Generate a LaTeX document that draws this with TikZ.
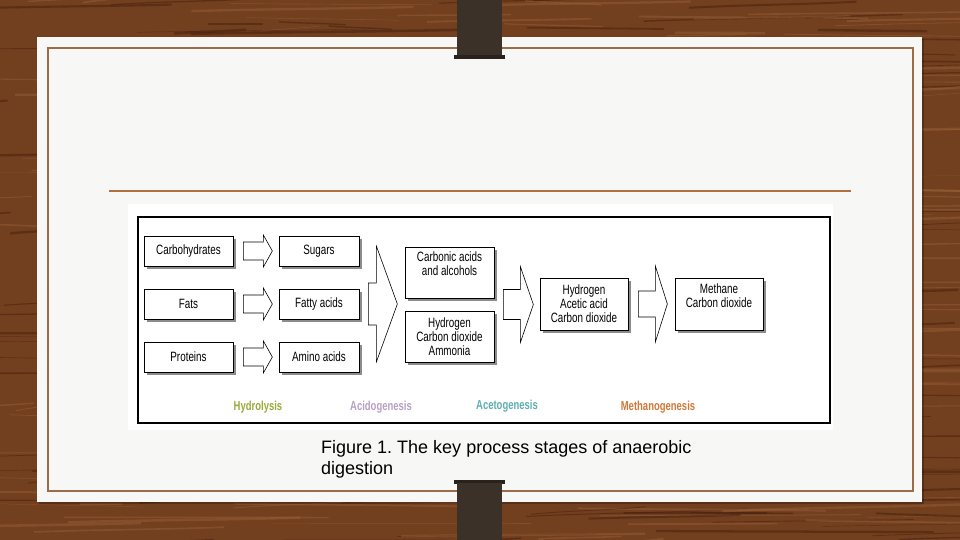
\documentclass[tikz,border=0pt]{standalone}
\usepackage{fontspec}
\setmainfont{Liberation Sans}
\newfontfamily\narrowfont[FakeStretch=0.73]{Liberation Sans}
\usetikzlibrary{calc,shadows}
\definecolor{woodbase}{HTML}{723F1F}
\definecolor{wooddark}{HTML}{45200E}
\definecolor{woodlight}{HTML}{9A6238}
\definecolor{paper}{HTML}{F7F7F5}
\definecolor{frameline}{HTML}{9C6B4A}
\definecolor{titleline}{HTML}{B0703F}
\definecolor{clipbody}{HTML}{3B3129}
\definecolor{clipfoot}{HTML}{29211B}
\definecolor{hydcol}{HTML}{9AAA3A}
\definecolor{acicol}{HTML}{B8A0C4}
\definecolor{acecol}{HTML}{5EAFB0}
\definecolor{metcol}{HTML}{D07838}
\tikzset{
  box/.style={draw=black, line width=0.7pt, fill=white, inner sep=0pt, align=center,
    font=\narrowfont\fontsize{13.5}{14}\selectfont,
    general shadow={fill=black!45, shadow xshift=2.5pt, shadow yshift=-2.5pt}},
  boxtext/.style={inner sep=0pt, align=center, font=\narrowfont\fontsize{13.5}{14}\selectfont},
  stagelab/.style={inner sep=0pt, font=\narrowfont\bfseries\fontsize{13}{14}\selectfont},
  barrow/.style={draw=black, line width=0.6pt, fill=white, line join=miter},
}
\newcommand\blockarr[5]{%
  \draw[barrow] ($#1+(0,-#4)$) -- ++(#2,0) -- ++(0,{#4-#5}) -- ++(#3,#5) -- ++(-#3,#5)
    -- ++(0,{#4-#5}) -- ++(-#2,0) -- cycle;}
\begin{document}
\begin{tikzpicture}[x=1pt,y=-1pt]
\useasboundingbox (0,0) rectangle (960,540);
% wood background
\fill[woodbase] (0,0) rectangle (960,540);
\pgfmathsetseed{11}
\foreach \i in {1,...,420} {
  \pgfmathsetmacro\yy{rnd*560-10}
  \pgfmathsetmacro\xx{rnd*1000-80}
  \pgfmathsetmacro\ll{40+rnd*240}
  \pgfmathsetmacro\dd{(rnd-0.65)*12}
  \pgfmathsetmacro\ww{0.4+rnd*2.2}
  \ifodd\i
    \draw[line width=\ww pt, wooddark, opacity=0.5] (\xx,\yy) .. controls +(\ll/3,\dd/2) and +(-\ll/3,-\dd/2) .. ++(\ll,\dd);
  \else
    \draw[line width=\ww pt, woodlight, opacity=0.45] (\xx,\yy) .. controls +(\ll/3,\dd/2) and +(-\ll/3,-\dd/2) .. ++(\ll,\dd);
  \fi
}
% paper
\fill[black, opacity=0.25] (39,39) rectangle (924,504);
\fill[paper] (37,37) rectangle (922,502);
\draw[frameline, line width=2pt] (48,48) rectangle (913,491);
\draw[titleline, line width=2pt] (109,190.5) -- (851,190.5);
% clips
\fill[clipbody] (457,0) rectangle (502,56);
\fill[clipfoot] (454,55) rectangle (505,59);
\fill[clipfoot] (454,480) rectangle (505,484);
\fill[clipbody] (457,483) rectangle (502,540);
% figure image
\fill[white] (128,204) rectangle (833,430);
\draw[black, line width=1.3pt] (138,217) rectangle (830,423);
% boxes
\node[box, minimum width=89pt, minimum height=30pt] (carb) at (188.5,251) {Carbohydrates};
\node[box, minimum width=89pt, minimum height=30pt] (fats) at (188.5,304) {Fats};
\node[box, minimum width=89pt, minimum height=30pt] (prot) at (188.5,357) {Proteins};
\node[box, minimum width=80pt, minimum height=30pt] (sug) at (319,251) {Sugars};
\node[box, minimum width=80pt, minimum height=30pt] (fa) at (319,304) {Fatty acids};
\node[box, minimum width=80pt, minimum height=30pt] (aa) at (319,357) {Amino acids};
\node[box, minimum width=89pt, minimum height=51pt] (ca) at (449.5,272.5) {};
\node[boxtext, anchor=north] (catext) at ($(ca.north)+(0,5)$) {Carbonic acids\\and alcohols};
\node[box, minimum width=89pt, minimum height=51pt] (hca) at (449.5,336.5) {Hydrogen\\Carbon dioxide\\Ammonia};
\node[box, minimum width=88pt, minimum height=52pt] (hac) at (584,304) {Hydrogen\\Acetic acid\\Carbon dioxide};
\node[box, minimum width=88pt, minimum height=52pt] (meth) at (719,304) {};
\node[boxtext, anchor=north] (methtext) at ($(meth.north)+(0,6)$) {Methane\\Carbon dioxide};
% block arrows
\blockarr{(carb.east)+(10,0)}{20}{9}{9}{16}
\blockarr{(fats.east)+(10,0)}{20}{9}{9}{16}
\blockarr{(prot.east)+(10,0)}{20}{9}{9}{16}
\blockarr{(fa.east)+(9,0)}{8}{21}{21}{58}
\blockarr{(ca.south east)!0.5!(hca.north east)+(9,0)}{17}{13}{15}{38}
\blockarr{(hac.east)+(10,0)}{17}{12}{13}{38}
% stage labels
\node[stagelab, text=hydcol] (hyd) at (258,407) {Hydrolysis};
\node[stagelab, text=acicol] (aci) at (381,407) {Acidogenesis};
\node[stagelab, text=acecol] (ace) at (507,406) {Acetogenesis};
\node[stagelab, text=metcol] (met) at (658,407) {Methanogenesis};
% caption
\node[anchor=north west, inner sep=0pt, align=left, font=\frenchspacing\fontsize{18}{21}\selectfont] (cap) at (321,440)
  {Figure 1. The key process stages of anaerobic\\digestion};
\end{tikzpicture}
\end{document}
